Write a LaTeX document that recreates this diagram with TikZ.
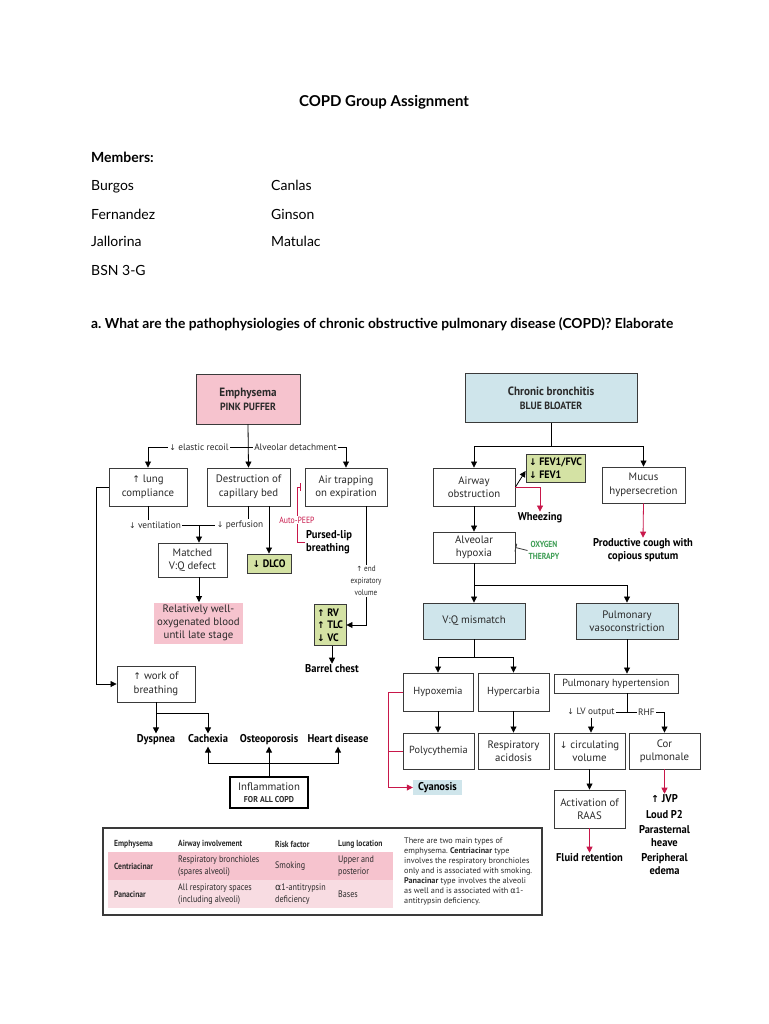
\documentclass[tikz,border=0pt]{standalone}
\usepackage{fontspec}
\setmainfont{Lato}
\newfontfamily\dfam{PT Sans}
\newfontfamily\cfam[FakeStretch=0.86]{PT Sans}
\newfontfamily\bfam[FakeStretch=0.93]{PT Sans}
\newfontfamily\symfam{DejaVu Sans}
\usetikzlibrary{arrows.meta,calc}
\definecolor{bordc}{HTML}{3A3A3A}
\definecolor{pinkc}{HTML}{F6C3CE}
\definecolor{pinkl}{HTML}{F8DCE2}
\definecolor{bluec}{HTML}{CFE5EB}
\definecolor{greenc}{HTML}{D4E2A4}
\definecolor{redc}{HTML}{C8174A}
\definecolor{oxyc}{HTML}{3F9E55}
\definecolor{txtc}{HTML}{2A2A2A}
\newcommand{\myup}{{\symfam\scalebox{0.85}{↑}}}
\newcommand{\mydn}{{\symfam\scalebox{0.85}{↓}}}
\newcommand{\myalpha}{{\symfam α}}
\frenchspacing
\tikzset{
 box/.style={draw=bordc, line width=0.9pt, fill=white, align=center, inner sep=1pt, text=txtc, font=\dfam\fontsize{10.8}{13.5}\selectfont},
 lab/.style={inner sep=1.2pt, text=txtc, font=\dfam\fontsize{9.3}{10}\selectfont},
 blab/.style={inner sep=1pt, align=center, text=black, font=\bfam\bfseries\fontsize{11.3}{13}\selectfont},
 rowlab/.style={blab, text height=8.2pt, text depth=2.6pt},
 gbox/.style={draw=bordc, line width=0.9pt, fill=greenc, align=left, inner sep=2pt, font=\bfam\bfseries\fontsize{10.8}{12.5}\selectfont},
 ln/.style={draw=black, line width=0.8pt},
 arr/.style={draw=black, line width=0.8pt, -{Triangle[length=6pt,width=6pt]}},
 rln/.style={draw=redc, line width=0.8pt},
 rarr/.style={draw=redc, line width=0.8pt, -{Triangle[length=6pt,width=6pt]}},
 hdr/.style={anchor=base west, inner sep=0, font=\fontsize{14}{16}\selectfont},
 th/.style={anchor=west, inner sep=0, text=txtc, font=\cfam\bfseries\fontsize{8.8}{10}\selectfont},
 td/.style={anchor=west, inner sep=0, align=left, text=txtc, font=\cfam\fontsize{9.4}{11.5}\selectfont},
}
\begin{document}
\begin{tikzpicture}[x=1pt,y=-1pt]
\useasboundingbox (0,0) rectangle (768,1024);
\fill[white] (0,0) rectangle (768,1024);

% ---------- header ----------
\node[anchor=base, inner sep=0, font=\bfseries\fontsize{15}{17}\selectfont] (title) at (384,107) {COPD Group Assignment};
\node[hdr, font=\bfseries\fontsize{14}{16}\selectfont] (mem) at (91,163) {Members:};
\node[hdr] (n1) at (91,191) {Burgos};
\node[hdr] (n2) at (91,219) {Fernandez};
\node[hdr] (n3) at (91,247) {Jallorina};
\node[hdr] (n4) at (91,275) {BSN 3-G};
\node[hdr] (n5) at (271,191) {Canlas};
\node[hdr] (n6) at (271,219) {Ginson};
\node[hdr] (n7) at (271,247) {Matulac};
\node[hdr, font=\bfseries\fontsize{13.8}{16}\selectfont] (q) at (91,328) {a. What are the pathophysiologies of chronic obstructive pulmonary disease (COPD)? Elaborate};

% ---------- emphysema side ----------
\node[box, fill=pinkc, minimum width=104, minimum height=50, font=\bfam\bfseries\fontsize{12}{14}\selectfont] (emph) at (248,399) {Emphysema\\{\fontsize{10.5}{12.5}\selectfont PINK PUFFER}};
\node[lab] (elast) at (199,447) {\mydn\ elastic recoil};
\node[lab] (alvd) at (295.5,447) {Alveolar detachment};
\node[box, minimum width=78, minimum height=38] (lungc) at (148,487) {\myup\ lung\\compliance};
\node[box, minimum width=83, minimum height=38] (destr) at (248.5,487) {Destruction of\\capillary bed};
\node[box, minimum width=82, minimum height=38] (airtr) at (346,487) {Air trapping\\on expiration};
\node[lab] (vent) at (155,525) {\mydn\ ventilation};
\node[lab] (perf) at (240,525) {\mydn\ perfusion};
\coordinate (vpj) at (199,525);
\node[box, minimum width=69, minimum height=34] (match) at (192.5,560) {Matched\\V:Q defect};
\node[gbox, minimum width=44, minimum height=19] (dlco) at (269,563.5) {\mydn\ DLCO};
\node[box, draw=none, fill=pinkc, minimum width=89, minimum height=41, font=\dfam\fontsize{10.8}{13}\selectfont] (relat) at (198.5,623) {Relatively well-\\oxygenated blood\\until late stage};
\node[inner sep=1pt, text=redc, font=\cfam\fontsize{9}{10}\selectfont] (peep) at (297,520) {Auto-PEEP};
\node[blab, anchor=west, align=left] (purs) at (305,542) {Pursed-lip\\breathing};
\node[inner sep=1pt, align=center, text=txtc, font=\cfam\fontsize{8.3}{12}\selectfont] (endx) at (366,581) {\myup\ end\\expiratory\\volume};
\node[gbox, minimum width=32, minimum height=41] (rv) at (330,625) {\myup\ RV\\\myup\ TLC\\\mydn\ VC};
\node[blab] (barrel) at (332,669) {Barrel chest};
\node[box, minimum width=78, minimum height=36] (work) at (156,684) {\myup\ work of\\breathing};
\node[rowlab] (dysp) at (156,740) {Dyspnea};
\node[rowlab] (cach) at (208,740) {Cachexia};
\node[rowlab] (osteo) at (269,740) {Osteoporosis};
\node[rowlab] (heart) at (338,740) {Heart disease};
\node[box, draw=black, line width=1.2pt, minimum width=78, minimum height=31] (infl) at (269,792.5) {Inflammation\\[-2pt]{\bfam\bfseries\fontsize{8.5}{10}\selectfont FOR ALL COPD}};

% emphysema connectors
\draw[ln] (elast.east) -- (alvd.west);
\draw[arr] (emph.south) -- (destr.north);
\draw[arr] (elast.west) -| (lungc.north);
\draw[arr] (alvd.east) -| (airtr.north);
\draw[ln] (lungc.south) -- (lungc.south |- vent.north);
\draw[ln] (destr.south) -- (destr.south |- perf.north);
\draw[ln] (vent.east) -- (perf.west);
\draw[arr] (vpj) -- (vpj |- match.north);
\draw[arr] (dlco.north |- destr.south) -- (dlco.north);
\draw[arr] (match.south -| vpj) -- (vpj |- relat.north);
\draw[ln] (airtr.south -| endx) -- (endx.north);
\draw[arr] (endx.south) |- (rv.east);
\draw[arr] (rv.south -| barrel) -- (barrel.north);
\draw[rln] (purs.west) -| (peep.south);
\draw[rln, -{Bar[width=8pt]}] (peep.north) |- ($(airtr.west)+(-4,0)$);
\draw[arr] (lungc.west) -- ++(-12,0) |- (work.west);
\coordinate (wj) at (156,713);
\draw[ln] (work.south) -- (wj);
\draw[arr] (wj) -- (dysp.north);
\draw[arr] (wj) -| (cach.north);
\coordinate (ij) at (269,763);
\draw[arr] (infl.north) -- (osteo.south);
\draw[arr] (ij) -| (cach.south);
\draw[arr] (ij) -| (heart.south);

% ---------- chronic bronchitis side ----------
\node[box, fill=bluec, minimum width=172, minimum height=49, font=\bfam\bfseries\fontsize{12}{14}\selectfont] (chron) at (551,398) {Chronic bronchitis\\{\fontsize{10.5}{12.5}\selectfont BLUE BLOATER}};
\coordinate (cj) at (551,446);
\node[box, minimum width=82, minimum height=38] (airway) at (474,487) {Airway\\obstruction};
\node[gbox, minimum width=59, minimum height=28] (fev) at (555.5,468) {\mydn\ FEV1/FVC\\\mydn\ FEV1};
\node[box, minimum width=83, minimum height=36] (mucus) at (643.5,485) {Mucus\\hypersecretion};
\node[blab] (wheez) at (540,518) {Wheezing};
\node[blab] (prod) at (643,550.5) {Productive cough with\\copious sputum};
\node[box, minimum width=82, minimum height=31] (alv) at (474,547.5) {Alveolar\\hypoxia};
\node[inner sep=1pt, align=center, text=oxyc, font=\cfam\bfseries\fontsize{8.8}{12.5}\selectfont] (oxy) at (544,550.5) {OXYGEN\\THERAPY};
\coordinate (vj) at (474,585);
\node[box, fill=bluec, minimum width=102, minimum height=36] (vq) at (474,621) {V:Q mismatch};
\node[box, fill=bluec, minimum width=102, minimum height=36] (pvaso) at (627,621) {Pulmonary\\vasoconstriction};
\coordinate (hj) at (474,657);
\node[box, minimum width=70, minimum height=38, font=\dfam\fontsize{10.3}{13}\selectfont] (hypox) at (438,692) {Hypoxemia};
\node[box, minimum width=71, minimum height=38, font=\dfam\fontsize{10.3}{13}\selectfont] (hyperc) at (513.5,692) {Hypercarbia};
\node[box, minimum width=124, minimum height=19, font=\dfam\fontsize{10.3}{13}\selectfont] (ph) at (616,683.5) {Pulmonary hypertension};
\coordinate (pj) at (627,712);
\node[lab] (lvout) at (591,712) {\mydn\ LV output};
\node[lab] (rhf) at (646.5,712) {RHF};
\node[box, minimum width=71, minimum height=36, font=\dfam\fontsize{10.3}{13}\selectfont] (poly) at (438.5,751) {Polycythemia};
\node[box, minimum width=71, minimum height=36] (resp) at (513.5,751) {Respiratory\\acidosis};
\node[box, minimum width=71, minimum height=36] (circ) at (589.5,751) {\mydn\ circulating\\volume};
\node[box, minimum width=71, minimum height=36] (cor) at (664.5,751) {Cor\\pulmonale};
\node[blab, fill=bluec, minimum width=49, minimum height=15] (cyan) at (437.5,787.5) {Cyanosis};
\node[box, minimum width=71, minimum height=38] (raas) at (589.5,809) {Activation of\\RAAS};
\node[blab] (fluid) at (589.5,858) {Fluid retention};
\node[blab] (jvp) at (664.5,799) {\myup\ JVP};
\node[blab] (loud) at (664.5,815) {Loud P2};
\node[blab] (para) at (664.5,836.5) {Parasternal\\heave};
\node[blab] (peri) at (664.5,864) {Peripheral\\edema};

% chronic connectors
\draw[ln] (chron.south -| cj) -- (cj);
\draw[arr] (cj) -| (airway.north);
\draw[arr] (cj) -| (mucus.north);
\draw[arr] (airway.east) -- ($(fev.west)+(0,3)$);
\draw[rarr] (airway.east) -| (wheez.north);
\draw[rarr] (mucus.south) -- (prod.north);
\draw[arr] (airway.south) -- (alv.north);
\draw[draw=bordc, line width=0.8pt, -{Bar[width=8pt]}] (oxy.west) -- (alv.east);
\draw[ln] (alv.south) -- (vj);
\draw[arr] (vj) -- (vq.north);
\draw[arr] (vj) -| (pvaso.north);
\draw[ln] (vq.south) -- (hj);
\draw[arr] (hj) -| (hypox.north);
\draw[arr] (hj) -| (hyperc.north);
\draw[arr] (pvaso.south) -- (pvaso.south |- ph.north);
\draw[ln] (pvaso.south |- ph.south) -- (pj);
\draw[ln] (lvout.east) -- (rhf.west);
\draw[arr] (rhf.east) -| (cor.north);
\draw[arr] (lvout.south) -- (lvout.south |- circ.north);
\draw[arr] (hypox.south) -- (poly.north -| hypox.south);
\draw[arr] (hyperc.south) -- (resp.north);
\draw[arr] (circ.south) -- (raas.north);
\draw[rarr] (raas.south) -- (fluid.north);
\draw[rarr] (cor.south) -- (jvp.north);
\draw[rarr] (hypox.west) -- ++(-14,0) |- (cyan.west);
\draw[rln] (poly.west) -- ++(-14.5,0);

% ---------- table ----------
\draw[draw=bordc, line width=1.3pt] (103,828) rectangle (542,915);
\fill[pinkc] (108,852) rectangle (393,880);
\fill[pinkl] (108,880) rectangle (393,908);
\node[th] (t1) at (114,844) {Emphysema};
\node[th] (t2) at (178,844) {Airway involvement};
\node[th] (t3) at (275,844) {Risk factor};
\node[th] (t4) at (338,844) {Lung location};
\node[th] (c1) at (114,866) {Centriacinar};
\node[td] (c2) at (178,866) {Respiratory bronchioles\\(spares alveoli)};
\node[td] (c3) at (275,866) {Smoking};
\node[td] (c4) at (338,866) {Upper and\\posterior};
\node[th] (p1) at (114,894) {Panacinar};
\node[td] (p2) at (178,894) {All respiratory spaces\\(including alveoli)};
\node[td] (p3) at (275,894) {\myalpha1-antitrypsin\\deficiency};
\node[td] (p4) at (338,894) {Bases};
\node[anchor=north west, align=left, inner sep=0, text=txtc, font=\dfam\fontsize{8.2}{10}\selectfont] (para) at (404,837) {There are two main types of\\emphysema. \textbf{Centriacinar} type\\involves the respiratory bronchioles\\only and is associated with smoking.\\\textbf{Panacinar} type involves the alveoli\\as well and is associated with \myalpha1-\\antitrypsin deficiency.};
\end{tikzpicture}
\end{document}
